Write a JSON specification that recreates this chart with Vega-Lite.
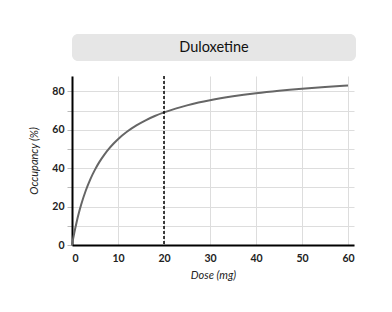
{
  "$schema": "https://vega.github.io/schema/vega-lite/v6.json",
  "padding": {"left": 28, "top": 34, "right": 0, "bottom": 0},
  "background": "white",
  "config": {
    "view": {"stroke": null},
    "font": "Lato",
    "concat": {"spacing": 14}
  },
  "datasets": {
    "curve": [
      {"dose": 0, "occ": 0},
      {"dose": 0.25, "occ": 3.29},
      {"dose": 0.5, "occ": 6.35},
      {"dose": 1, "occ": 11.89},
      {"dose": 1.5, "occ": 16.76},
      {"dose": 2, "occ": 21.07},
      {"dose": 3, "occ": 28.37},
      {"dose": 4, "occ": 34.32},
      {"dose": 5, "occ": 39.25},
      {"dose": 6, "occ": 43.41},
      {"dose": 7, "occ": 46.97},
      {"dose": 8, "occ": 50.05},
      {"dose": 9, "occ": 52.73},
      {"dose": 10, "occ": 55.10},
      {"dose": 12, "occ": 59.07},
      {"dose": 14, "occ": 62.28},
      {"dose": 16, "occ": 64.93},
      {"dose": 18, "occ": 67.15},
      {"dose": 20, "occ": 69.03},
      {"dose": 22.5, "occ": 71.03},
      {"dose": 25, "occ": 72.71},
      {"dose": 27.5, "occ": 74.15},
      {"dose": 30, "occ": 75.39},
      {"dose": 35, "occ": 77.42},
      {"dose": 40, "occ": 79.03},
      {"dose": 45, "occ": 80.32},
      {"dose": 50, "occ": 81.38},
      {"dose": 55, "occ": 82.27},
      {"dose": 60, "occ": 83.03}
    ],
    "title": [{"label": "Duloxetine"}],
    "marker": [{"dose": 20}]
  },
  "vconcat": [
    {
      "width": 284,
      "height": 27,
      "data": {"name": "title"},
      "layer": [
        {
          "mark": {"type": "rect", "fill": "#e6e6e6", "cornerRadius": 6},
          "encoding": {
            "x": {"datum": 0, "type": "quantitative", "scale": {"domain": [0, 1]}, "axis": null},
            "x2": {"datum": 1},
            "y": {"datum": 0, "type": "quantitative", "scale": {"domain": [0, 1]}, "axis": null},
            "y2": {"datum": 1}
          }
        },
        {
          "mark": {"type": "text", "fontSize": 14.5, "color": "#111", "font": "Lato", "baseline": "middle", "align": "center"},
          "encoding": {
            "x": {"datum": 0.5, "type": "quantitative", "scale": {"domain": [0, 1]}, "axis": null},
            "y": {"datum": 0.5, "type": "quantitative", "scale": {"domain": [0, 1]}, "axis": null},
            "text": {"field": "label"}
          }
        }
      ]
    },
    {
      "width": 282,
      "height": 169,
      "layer": [
        {
          "data": {"name": "curve"},
          "mark": {"type": "line", "color": "#666", "strokeWidth": 2, "interpolate": "monotone"},
          "encoding": {
            "x": {
              "field": "dose", "type": "quantitative",
              "scale": {"domain": [0, 61.3], "nice": false},
              "axis": {
                "title": "Dose (mg)", "values": [0, 10, 20, 30, 40, 50, 60],
                "titleFontStyle": "italic", "titleFontWeight": "normal", "titleFontSize": 11, "titleColor": "#222", "titlePadding": 6,
                "labelFontWeight": "bold", "labelFontSize": 10.5, "labelColor": "#222", "labelPadding": 8,
                "ticks": false, "domainColor": "#000", "domainWidth": 2,
                "gridColor": "#ddd", "gridWidth": 1
              }
            },
            "y": {
              "field": "occ", "type": "quantitative",
              "scale": {"domain": [0, 88], "nice": false},
              "axis": {
                "title": "Occupancy (%)", "values": [0, 10, 20, 30, 40, 50, 60, 70, 80],
                "labelExpr": "datum.value % 20 == 0 ? datum.label : ''",
                "titleFontStyle": "italic", "titleFontWeight": "normal", "titleFontSize": 11, "titleColor": "#222", "titlePadding": 12,
                "labelFontWeight": "bold", "labelFontSize": 10.5, "labelColor": "#222", "labelPadding": 3,
                "tickColor": "#bbb", "tickSize": 5, "domainColor": "#000", "domainWidth": 2,
                "gridColor": "#ddd", "gridWidth": 1
              }
            }
          }
        },
        {
          "data": {"name": "marker"},
          "mark": {"type": "rule", "color": "#000", "strokeWidth": 1.5, "strokeDash": [3, 2]},
          "encoding": {
            "x": {"field": "dose", "type": "quantitative"}
          }
        }
      ]
    }
  ]
}
